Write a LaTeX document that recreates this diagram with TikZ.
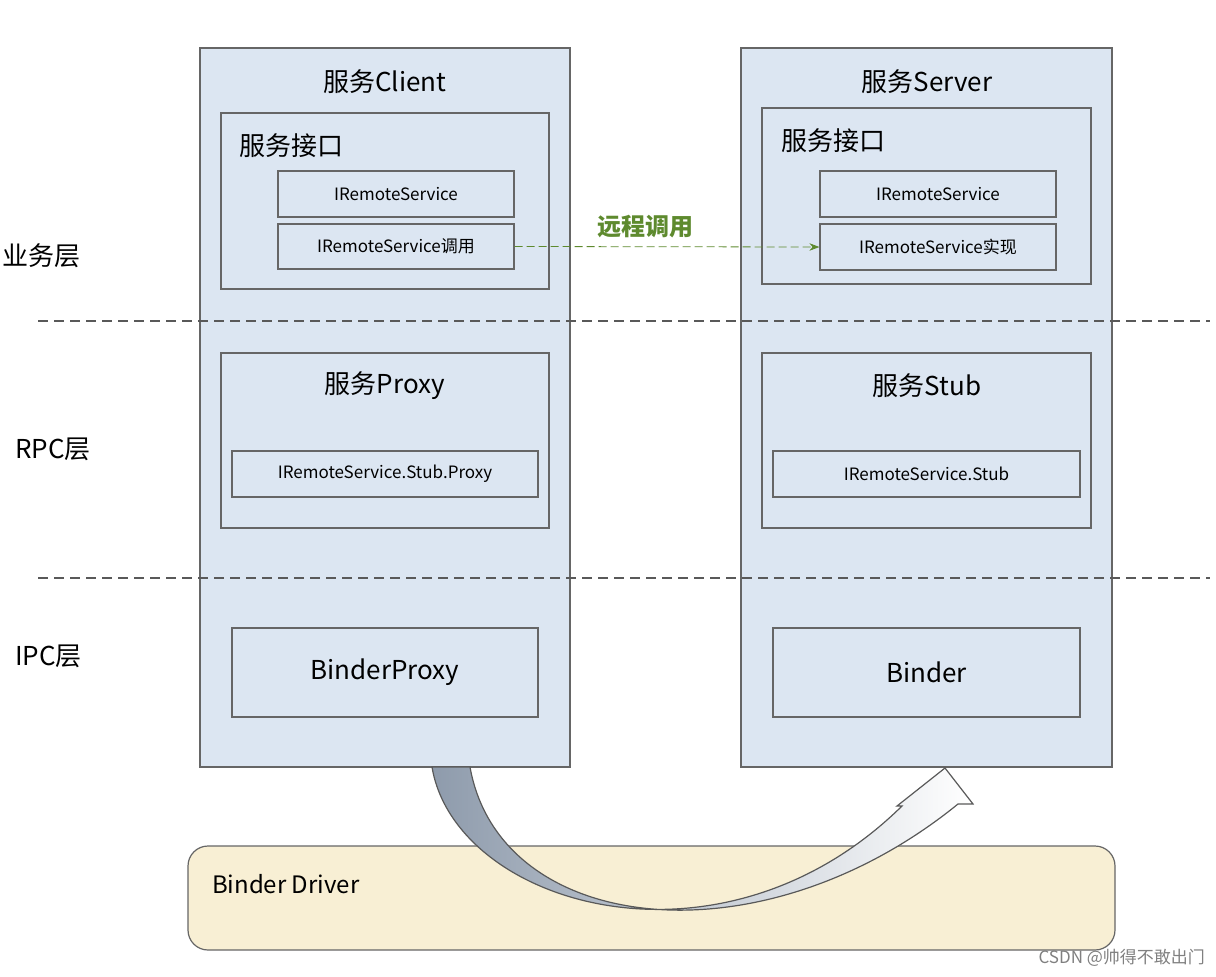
\documentclass[tikz,border=0pt]{standalone}
\usepackage{fontspec}
\setmainfont{Noto Sans CJK SC}
\usetikzlibrary{arrows.meta}
\definecolor{colfill}{HTML}{DCE6F2}
\definecolor{drvfill}{HTML}{F8EFD4}
\definecolor{callgreen}{HTML}{5E8A2E}
\definecolor{arrgray}{HTML}{8E9BAC}
\begin{document}
\begin{tikzpicture}[x=0.5pt,y=-0.5pt,
  col/.style={draw=gray!80!black,fill=colfill,line width=0.6pt},
  box/.style={draw=gray!80!black,line width=0.6pt},
  big/.style={font=\fontsize{13}{15}\selectfont},
  small/.style={font=\fontsize{8.5}{10}\selectfont},
  layer/.style={draw=gray!70!black,dashed,dash pattern=on 5pt off 3pt,line width=0.7pt}]
\useasboundingbox (0,0) rectangle (1216,976);
% columns
\draw[col] (200,48) rectangle (570,767);
\draw[col] (741,48) rectangle (1112,767);
\node[big] (ct) at (385,82) {服务Client};
\node[big] (st) at (927,82) {服务Server};
% business layer
\draw[box] (221,113) rectangle (549,289);
\node[big,anchor=west] (ci) at (232,146) {服务接口};
\node[box,small,minimum width=118pt,minimum height=23pt] (c1) at (396,194) {IRemoteService};
\node[box,small,minimum width=118pt,minimum height=22.5pt] (c2) at (396,246.5) {IRemoteService调用};
\draw[box] (762,108) rectangle (1091,284);
\node[big,anchor=west] (si) at (774,141) {服务接口};
\node[box,small,minimum width=118pt,minimum height=23pt] (s1) at (938,194) {IRemoteService};
\node[box,small,minimum width=118pt,minimum height=23pt] (s2) at (938,247) {IRemoteService实现};
\draw[callgreen,dashed,dash pattern=on 4pt off 2pt,-{Stealth[length=5pt]}] (c2.east) -- (s2.west)
  node[pos=0.43,above=1pt,font=\fontsize{12}{14}\selectfont\bfseries] (rc) {远程调用};
% dashed layer lines
\coordinate (l1a) at (38,321); \coordinate (l1b) at (1210,321);
\coordinate (l2a) at (38,578); \coordinate (l2b) at (1210,578);
\draw[layer] (l1a) -- (l1b);
\draw[layer] (l2a) -- (l2b);
\node[big,anchor=east] (lb) at (88,256) {业务层};
\node[big,anchor=west] (lr) at (8,449) {RPC层};
\node[big,anchor=west] (li) at (8,656) {IPC层};
% RPC layer
\draw[box] (221,353) rectangle (549,528);
\node[big] (px) at (385,386) {服务Proxy};
\node[box,small,minimum width=153pt,minimum height=23pt] (pxi) at (385,474) {IRemoteService.Stub.Proxy};
\draw[box] (762,353) rectangle (1091,528);
\node[big] (sb) at (927,386) {服务Stub};
\node[box,small,minimum width=153.5pt,minimum height=23pt] (sbi) at (926.5,474) {IRemoteService.Stub};
% IPC layer
\node[box,big,minimum width=153pt,minimum height=44.5pt] (bp) at (385,672.5) {BinderProxy};
\node[box,big,minimum width=153.5pt,minimum height=44.5pt] (bn) at (926.5,672.5) {Binder};
% driver
\draw[draw=gray!80!black,fill=drvfill,rounded corners=10pt,line width=0.6pt] (188,846) rectangle (1115,950);
\node[font=\fontsize{12}{14}\selectfont,anchor=west] (dr) at (205,884) {Binder Driver};
% big curved arrow
\shade[left color=arrgray,right color=white,draw=gray!70!black,line width=0.6pt]
  (432,767) .. controls (455,905) and (720,985) .. (902,806)
  -- (897,806) -- (945,768) -- (973,804) -- (958,804)
  .. controls (760,965) and (500,935) .. (470,767) -- cycle;
\node[gray,font=\fontsize{8.5}{10}\selectfont,anchor=east] (wm) at (1212,958) {CSDN @帅得不敢出门};
\end{tikzpicture}
\end{document}
